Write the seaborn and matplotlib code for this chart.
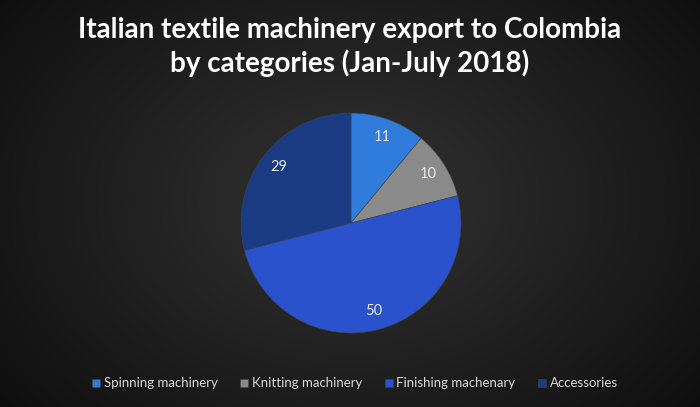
import numpy as np
import matplotlib
matplotlib.use("Agg")
import matplotlib.pyplot as plt
import seaborn as sns

# -----------------------------
# DATA
# -----------------------------
categories = ["Spinning machinery", "Knitting machinery", "Finishing machenary", "Accessories"]
values = [11, 10, 50, 29]
colors = ["#2F7CDD", "#8A8A8A", "#2A52CC", "#1B3C85"]

title = "Italian textile machinery export to Colombia\nby categories (Jan-July 2018)"

sns.set_theme(style="dark")
plt.rcParams['font.family'] = ['Lato', 'DejaVu Sans']

fig = plt.figure(figsize=(7.0, 4.07), dpi=100)

# dark radial gradient background
bg = fig.add_axes([0, 0, 1, 1])
yy, xx = np.mgrid[0:407, 0:700]
d = np.sqrt(((xx - 350) / 420.0) ** 2 + ((yy - 200) / 300.0) ** 2)
shade = np.clip(0.20 - 0.13 * d, 0.05, 0.2)
bg.imshow(np.dstack([shade] * 3), aspect="auto", extent=[0, 1, 0, 1])
bg.set_axis_off()

# pie
r = 110
ax = fig.add_axes([(351 - r) / 700, (407 - 223 - r) / 407, 2 * r / 700, 2 * r / 407])
wedges, _, autotexts = ax.pie(
    values,
    colors=colors,
    startangle=90,
    counterclock=False,
    autopct=lambda p: f"{p:.0f}",
    pctdistance=0.83,
    wedgeprops=dict(linewidth=0.4, edgecolor="#444444"),
    textprops=dict(color="#e8e8e8", fontsize=10.5),
)
ax.set_xlim(-1, 1)
ax.set_ylim(-1, 1)
ax.set_aspect("equal")

fig.text(0.5, 0.885, title, ha="center", va="center", color="white",
         fontsize=20, fontweight="bold", linespacing=1.3)

leg = fig.legend(wedges, categories, loc="center", bbox_to_anchor=(0.507, 0.058),
                 ncol=4, frameon=False, fontsize=9.5, handlelength=0.6,
                 handleheight=0.6, handletextpad=0.3, columnspacing=1.7)
for t in leg.get_texts():
    t.set_color("#d9d9d9")

fig.savefig("out.png", dpi=100, facecolor="#1a1a1a")
